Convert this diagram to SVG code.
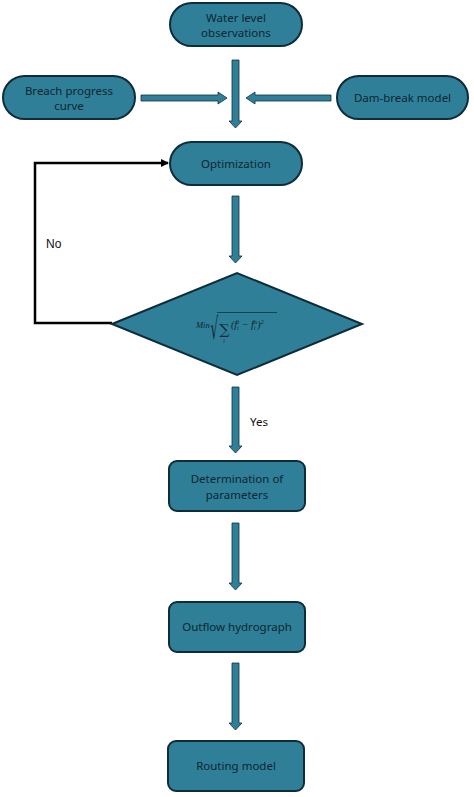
<svg xmlns="http://www.w3.org/2000/svg" width="474" height="797" viewBox="0 0 474 797">
<style>
.n{fill:#2f7f98;stroke:#0e2c3a;stroke-width:2}
.t{font-family:"Noto Sans","Open Sans",sans-serif;font-size:11.5px;fill:#0e2630;text-anchor:middle}
.a{fill:#2f7f98;stroke:#10303d;stroke-width:0.8}
.l{fill:none;stroke:#000;stroke-width:2.5}
.m{font-family:"Liberation Serif",serif;font-style:italic;fill:#0e2630}
</style>
<defs>
<marker id="ah" markerWidth="8" markerHeight="8" refX="7" refY="4" orient="auto" markerUnits="userSpaceOnUse">
<path d="M0,0 L8,4 L0,8 z" fill="#000"/>
</marker>
</defs>
<rect width="474" height="797" fill="#fff"/>
<g id="connectors">
<polygon class="a" points="232,60 239,60 239,121 242,121 235.5,128 229,121 232,121"/>
<polygon class="a" points="141,95 218,95 218,92 227,98 218,104 218,101 141,101"/>
<polygon class="a" points="331,95 255,95 255,92 246,98 255,104 255,101 331,101"/>
<polygon class="a" points="232,196 239,196 239,256 242,256 235.5,263 229,256 232,256"/>
<polygon class="a" points="232,387 239,387 239,446 242,446 235.5,453 229,446 232,446"/>
<polygon class="a" points="232,523 239,523 239,583 242,583 235.5,590 229,583 232,583"/>
<polygon class="a" points="232,663 239,663 239,723 242,723 235.5,730 229,723 232,723"/>
<polyline class="l" points="112,323 35,323 35,163 168,163" marker-end="url(#ah)"/>
<text x="46" y="248" font-family="Liberation Sans,Arial,sans-serif" font-size="12" fill="#111">No</text>
<text x="250" y="426" font-family="Noto Sans,sans-serif" font-size="11.5" fill="#111">Yes</text>
</g>
<g id="water">
<rect class="n" x="170" y="3" width="132" height="43" rx="21.5"/>
<text class="t" x="236" y="22">Water level</text>
<text class="t" x="236" y="37">observations</text>
</g>
<g id="breach">
<rect class="n" x="3" y="76" width="132" height="43" rx="21.5"/>
<text class="t" x="69" y="95">Breach progress</text>
<text class="t" x="69" y="110">curve</text>
</g>
<g id="dambreak">
<rect class="n" x="337" y="76" width="131" height="43" rx="21.5"/>
<text class="t" x="402.5" y="102">Dam-break model</text>
</g>
<g id="optimization">
<rect class="n" x="170" y="142" width="132" height="43" rx="21.5"/>
<text class="t" x="236" y="168">Optimization</text>
</g>
<g id="decision">
<polygon class="n" points="112,324 237,273 362,324 237,375"/>
<text class="m" x="196" y="328" font-size="8.5">Min</text>
<text transform="translate(210.5,339) scale(0.4,1)" font-family="DejaVu Serif,serif" font-size="30" fill="#0e2630">√</text>
<line x1="217" y1="312.5" x2="277" y2="312.5" stroke="#0e2630" stroke-width="0.7"/>
<text x="224.5" y="334" font-family="DejaVu Serif,serif" font-size="14" fill="#0e2630" text-anchor="middle">∑</text>
<text class="m" x="224" y="342.5" font-size="5.5" text-anchor="middle">i</text>
<text class="m" x="231" y="328" font-size="10">(f<tspan font-size="6" dy="2">i</tspan><tspan font-size="6" dx="-2.5" dy="-6.5">o</tspan><tspan dy="4.5"> − f</tspan><tspan font-size="6" dy="2">i</tspan><tspan font-size="6" dx="-2.5" dy="-6.5">m</tspan><tspan dy="4.5">)</tspan><tspan font-size="6" dy="-4">2</tspan></text>
</g>
<g id="determination">
<rect class="n" x="169" y="461" width="136" height="50" rx="8"/>
<text class="t" x="237" y="483">Determination of</text>
<text class="t" x="237" y="499">parameters</text>
</g>
<g id="outflow">
<rect class="n" x="169" y="602" width="136" height="50" rx="8"/>
<text class="t" x="237" y="631">Outflow hydrograph</text>
</g>
<g id="routing">
<rect class="n" x="168" y="741" width="136" height="50" rx="8"/>
<text class="t" x="236" y="770">Routing model</text>
</g>
</svg>
